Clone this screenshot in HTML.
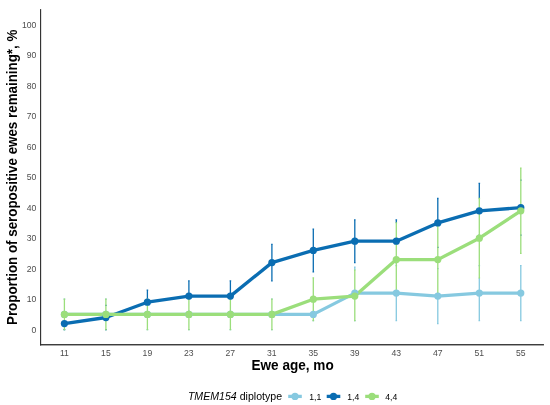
<!DOCTYPE html>
<html lang="en"><head><meta charset="utf-8"><title>Proportion of seropositive ewes remaining</title>
<style>html,body{margin:0;padding:0;background:#fff}body{width:550px;height:405px;overflow:hidden}</style></head>
<body>
<svg width="550" height="405" viewBox="0 0 550 405" style="display:block">
<rect width="550" height="405" fill="#fff"/>
<path d="M63.6 329.7h1.6M63.6 299.2h1.6" stroke="#86c9e0" stroke-width="1.3" fill="none"/>
<path d="M105.1 329.7h1.6M105.1 299.2h1.6" stroke="#86c9e0" stroke-width="1.3" fill="none"/>
<path d="M146.6 329.7h1.6M146.6 299.2h1.6" stroke="#86c9e0" stroke-width="1.3" fill="none"/>
<path d="M188.1 329.7h1.6M188.1 299.2h1.6" stroke="#86c9e0" stroke-width="1.3" fill="none"/>
<path d="M229.6 329.7h1.6M229.6 299.2h1.6" stroke="#86c9e0" stroke-width="1.3" fill="none"/>
<path d="M271.1 329.7h1.6M271.1 299.2h1.6" stroke="#86c9e0" stroke-width="1.3" fill="none"/>
<path d="M312.5 320.6h1.6M312.5 299.2h1.6" stroke="#86c9e0" stroke-width="1.3" fill="none"/>
<path d="M354.8 270.2V267.2M354.0 320.6h1.6M354.0 267.2h1.6" stroke="#86c9e0" stroke-width="1.3" fill="none"/>
<path d="M396.3 320.6V293.1M395.5 320.6h1.6M395.5 265.6h1.6" stroke="#86c9e0" stroke-width="1.3" fill="none"/>
<path d="M437.8 323.6V293.1M437.0 323.6h1.6M437.0 268.7h1.6" stroke="#86c9e0" stroke-width="1.3" fill="none"/>
<path d="M479.3 320.6V277.9M478.5 320.6h1.6M478.5 265.6h1.6" stroke="#86c9e0" stroke-width="1.3" fill="none"/>
<path d="M520.8 320.6V265.6M520.0 320.6h1.6M520.0 265.6h1.6" stroke="#86c9e0" stroke-width="1.3" fill="none"/>
<path d="M63.6 329.7h1.6M63.6 314.4h1.6" stroke="#0a6db2" stroke-width="1.3" fill="none"/>
<path d="M105.1 329.7h1.6M105.1 305.3h1.6" stroke="#0a6db2" stroke-width="1.3" fill="none"/>
<path d="M147.4 299.2V290.1M146.6 314.4h1.6M146.6 290.1h1.6" stroke="#0a6db2" stroke-width="1.3" fill="none"/>
<path d="M188.9 299.2V280.9M188.1 311.4h1.6M188.1 280.9h1.6" stroke="#0a6db2" stroke-width="1.3" fill="none"/>
<path d="M230.4 299.2V280.9M229.6 311.4h1.6M229.6 280.9h1.6" stroke="#0a6db2" stroke-width="1.3" fill="none"/>
<path d="M271.9 280.9V244.3M271.1 280.9h1.6M271.1 244.3h1.6" stroke="#0a6db2" stroke-width="1.3" fill="none"/>
<path d="M313.3 271.8V229.1M312.5 271.8h1.6M312.5 229.1h1.6" stroke="#0a6db2" stroke-width="1.3" fill="none"/>
<path d="M354.8 262.6V219.9M354.0 262.6h1.6M354.0 219.9h1.6" stroke="#0a6db2" stroke-width="1.3" fill="none"/>
<path d="M396.3 222.9V219.9M395.5 262.6h1.6M395.5 219.9h1.6" stroke="#0a6db2" stroke-width="1.3" fill="none"/>
<path d="M437.8 222.9V198.5M437.0 247.3h1.6M437.0 198.5h1.6" stroke="#0a6db2" stroke-width="1.3" fill="none"/>
<path d="M479.3 198.5V183.3M478.5 235.1h1.6M478.5 183.3h1.6" stroke="#0a6db2" stroke-width="1.3" fill="none"/>
<path d="M520.0 235.1h1.6M520.0 180.2h1.6" stroke="#0a6db2" stroke-width="1.3" fill="none"/>
<path d="M64.4 329.7V299.2M63.6 329.7h1.6M63.6 299.2h1.6" stroke="#9bde7b" stroke-width="1.3" fill="none"/>
<path d="M105.9 329.7V299.2M105.1 329.7h1.6M105.1 299.2h1.6" stroke="#9bde7b" stroke-width="1.3" fill="none"/>
<path d="M147.4 329.7V299.2M146.6 329.7h1.6M146.6 299.2h1.6" stroke="#9bde7b" stroke-width="1.3" fill="none"/>
<path d="M188.9 329.7V299.2M188.1 329.7h1.6M188.1 299.2h1.6" stroke="#9bde7b" stroke-width="1.3" fill="none"/>
<path d="M230.4 329.7V299.2M229.6 329.7h1.6M229.6 299.2h1.6" stroke="#9bde7b" stroke-width="1.3" fill="none"/>
<path d="M271.9 329.7V299.2M271.1 329.7h1.6M271.1 299.2h1.6" stroke="#9bde7b" stroke-width="1.3" fill="none"/>
<path d="M313.3 320.6V277.9M312.5 320.6h1.6M312.5 277.9h1.6" stroke="#9bde7b" stroke-width="1.3" fill="none"/>
<path d="M354.8 320.6V270.2M354.0 320.6h1.6M354.0 270.2h1.6" stroke="#9bde7b" stroke-width="1.3" fill="none"/>
<path d="M396.3 293.1V222.9M395.5 293.1h1.6M395.5 222.9h1.6" stroke="#9bde7b" stroke-width="1.3" fill="none"/>
<path d="M437.8 293.1V222.9M437.0 293.1h1.6M437.0 222.9h1.6" stroke="#9bde7b" stroke-width="1.3" fill="none"/>
<path d="M479.3 277.9V198.5M478.5 277.9h1.6M478.5 198.5h1.6" stroke="#9bde7b" stroke-width="1.3" fill="none"/>
<path d="M520.8 253.4V168.1M520.0 253.4h1.6M520.0 168.1h1.6" stroke="#9bde7b" stroke-width="1.3" fill="none"/>
<polyline points="64.4,314.4 105.9,314.4 147.4,314.4 188.9,314.4 230.4,314.4 271.9,314.4 313.3,314.4 354.8,293.1 396.3,293.1 437.8,296.1 479.3,293.1 520.8,293.1" fill="none" stroke="#86c9e0" stroke-width="3.3" stroke-linejoin="round" stroke-linecap="butt"/>
<polyline points="64.4,323.6 105.9,317.5 147.4,302.2 188.9,296.1 230.4,296.1 271.9,262.6 313.3,250.4 354.8,241.2 396.3,241.2 437.8,222.9 479.3,210.8 520.8,207.7" fill="none" stroke="#0a6db2" stroke-width="3.3" stroke-linejoin="round" stroke-linecap="butt"/>
<polyline points="64.4,314.4 105.9,314.4 147.4,314.4 188.9,314.4 230.4,314.4 271.9,314.4 313.3,299.2 354.8,296.1 396.3,259.6 437.8,259.6 479.3,238.2 520.8,210.8" fill="none" stroke="#9bde7b" stroke-width="3.3" stroke-linejoin="round" stroke-linecap="butt"/>
<ellipse cx="64.4" cy="314.4" rx="3.6" ry="3.65" fill="#86c9e0"/>
<ellipse cx="105.9" cy="314.4" rx="3.6" ry="3.65" fill="#86c9e0"/>
<ellipse cx="147.4" cy="314.4" rx="3.6" ry="3.65" fill="#86c9e0"/>
<ellipse cx="188.9" cy="314.4" rx="3.6" ry="3.65" fill="#86c9e0"/>
<ellipse cx="230.4" cy="314.4" rx="3.6" ry="3.65" fill="#86c9e0"/>
<ellipse cx="271.9" cy="314.4" rx="3.6" ry="3.65" fill="#86c9e0"/>
<ellipse cx="313.3" cy="314.4" rx="3.6" ry="3.65" fill="#86c9e0"/>
<ellipse cx="354.8" cy="293.1" rx="3.6" ry="3.65" fill="#86c9e0"/>
<ellipse cx="396.3" cy="293.1" rx="3.6" ry="3.65" fill="#86c9e0"/>
<ellipse cx="437.8" cy="296.1" rx="3.6" ry="3.65" fill="#86c9e0"/>
<ellipse cx="479.3" cy="293.1" rx="3.6" ry="3.65" fill="#86c9e0"/>
<ellipse cx="520.8" cy="293.1" rx="3.6" ry="3.65" fill="#86c9e0"/>
<ellipse cx="64.4" cy="323.6" rx="3.6" ry="3.65" fill="#0a6db2"/>
<ellipse cx="105.9" cy="317.5" rx="3.6" ry="3.65" fill="#0a6db2"/>
<ellipse cx="147.4" cy="302.2" rx="3.6" ry="3.65" fill="#0a6db2"/>
<ellipse cx="188.9" cy="296.1" rx="3.6" ry="3.65" fill="#0a6db2"/>
<ellipse cx="230.4" cy="296.1" rx="3.6" ry="3.65" fill="#0a6db2"/>
<ellipse cx="271.9" cy="262.6" rx="3.6" ry="3.65" fill="#0a6db2"/>
<ellipse cx="313.3" cy="250.4" rx="3.6" ry="3.65" fill="#0a6db2"/>
<ellipse cx="354.8" cy="241.2" rx="3.6" ry="3.65" fill="#0a6db2"/>
<ellipse cx="396.3" cy="241.2" rx="3.6" ry="3.65" fill="#0a6db2"/>
<ellipse cx="437.8" cy="222.9" rx="3.6" ry="3.65" fill="#0a6db2"/>
<ellipse cx="479.3" cy="210.8" rx="3.6" ry="3.65" fill="#0a6db2"/>
<ellipse cx="520.8" cy="207.7" rx="3.6" ry="3.65" fill="#0a6db2"/>
<ellipse cx="64.4" cy="314.4" rx="3.6" ry="3.65" fill="#9bde7b"/>
<ellipse cx="105.9" cy="314.4" rx="3.6" ry="3.65" fill="#9bde7b"/>
<ellipse cx="147.4" cy="314.4" rx="3.6" ry="3.65" fill="#9bde7b"/>
<ellipse cx="188.9" cy="314.4" rx="3.6" ry="3.65" fill="#9bde7b"/>
<ellipse cx="230.4" cy="314.4" rx="3.6" ry="3.65" fill="#9bde7b"/>
<ellipse cx="271.9" cy="314.4" rx="3.6" ry="3.65" fill="#9bde7b"/>
<ellipse cx="313.3" cy="299.2" rx="3.6" ry="3.65" fill="#9bde7b"/>
<ellipse cx="354.8" cy="296.1" rx="3.6" ry="3.65" fill="#9bde7b"/>
<ellipse cx="396.3" cy="259.6" rx="3.6" ry="3.65" fill="#9bde7b"/>
<ellipse cx="437.8" cy="259.6" rx="3.6" ry="3.65" fill="#9bde7b"/>
<ellipse cx="479.3" cy="238.2" rx="3.6" ry="3.65" fill="#9bde7b"/>
<ellipse cx="520.8" cy="210.8" rx="3.6" ry="3.65" fill="#9bde7b"/>
<rect x="40.05" y="9.1" width="1.1" height="336.4" fill="#2a2a2a"/>
<rect x="40.05" y="344.1" width="503.9" height="1.3" fill="#2a2a2a"/>
<text transform="translate(36.40,332.90) scale(0.93,1)" text-anchor="end" font-family="Liberation Sans, Arial, sans-serif" font-size="9.3" font-weight="normal" fill="#4d4d4d">0</text>
<text transform="translate(36.40,302.40) scale(0.93,1)" text-anchor="end" font-family="Liberation Sans, Arial, sans-serif" font-size="9.3" font-weight="normal" fill="#4d4d4d">10</text>
<text transform="translate(36.40,271.90) scale(0.93,1)" text-anchor="end" font-family="Liberation Sans, Arial, sans-serif" font-size="9.3" font-weight="normal" fill="#4d4d4d">20</text>
<text transform="translate(36.40,241.40) scale(0.93,1)" text-anchor="end" font-family="Liberation Sans, Arial, sans-serif" font-size="9.3" font-weight="normal" fill="#4d4d4d">30</text>
<text transform="translate(36.40,210.90) scale(0.93,1)" text-anchor="end" font-family="Liberation Sans, Arial, sans-serif" font-size="9.3" font-weight="normal" fill="#4d4d4d">40</text>
<text transform="translate(36.40,180.40) scale(0.93,1)" text-anchor="end" font-family="Liberation Sans, Arial, sans-serif" font-size="9.3" font-weight="normal" fill="#4d4d4d">50</text>
<text transform="translate(36.40,149.90) scale(0.93,1)" text-anchor="end" font-family="Liberation Sans, Arial, sans-serif" font-size="9.3" font-weight="normal" fill="#4d4d4d">60</text>
<text transform="translate(36.40,119.40) scale(0.93,1)" text-anchor="end" font-family="Liberation Sans, Arial, sans-serif" font-size="9.3" font-weight="normal" fill="#4d4d4d">70</text>
<text transform="translate(36.40,88.90) scale(0.93,1)" text-anchor="end" font-family="Liberation Sans, Arial, sans-serif" font-size="9.3" font-weight="normal" fill="#4d4d4d">80</text>
<text transform="translate(36.40,58.40) scale(0.93,1)" text-anchor="end" font-family="Liberation Sans, Arial, sans-serif" font-size="9.3" font-weight="normal" fill="#4d4d4d">90</text>
<text transform="translate(36.40,27.90) scale(0.93,1)" text-anchor="end" font-family="Liberation Sans, Arial, sans-serif" font-size="9.3" font-weight="normal" fill="#4d4d4d">100</text>
<text transform="translate(64.40,356.00) scale(0.93,1)" text-anchor="middle" font-family="Liberation Sans, Arial, sans-serif" font-size="9.3" font-weight="normal" fill="#4d4d4d">11</text>
<text transform="translate(105.89,356.00) scale(0.93,1)" text-anchor="middle" font-family="Liberation Sans, Arial, sans-serif" font-size="9.3" font-weight="normal" fill="#4d4d4d">15</text>
<text transform="translate(147.38,356.00) scale(0.93,1)" text-anchor="middle" font-family="Liberation Sans, Arial, sans-serif" font-size="9.3" font-weight="normal" fill="#4d4d4d">19</text>
<text transform="translate(188.87,356.00) scale(0.93,1)" text-anchor="middle" font-family="Liberation Sans, Arial, sans-serif" font-size="9.3" font-weight="normal" fill="#4d4d4d">23</text>
<text transform="translate(230.36,356.00) scale(0.93,1)" text-anchor="middle" font-family="Liberation Sans, Arial, sans-serif" font-size="9.3" font-weight="normal" fill="#4d4d4d">27</text>
<text transform="translate(271.85,356.00) scale(0.93,1)" text-anchor="middle" font-family="Liberation Sans, Arial, sans-serif" font-size="9.3" font-weight="normal" fill="#4d4d4d">31</text>
<text transform="translate(313.34,356.00) scale(0.93,1)" text-anchor="middle" font-family="Liberation Sans, Arial, sans-serif" font-size="9.3" font-weight="normal" fill="#4d4d4d">35</text>
<text transform="translate(354.83,356.00) scale(0.93,1)" text-anchor="middle" font-family="Liberation Sans, Arial, sans-serif" font-size="9.3" font-weight="normal" fill="#4d4d4d">39</text>
<text transform="translate(396.32,356.00) scale(0.93,1)" text-anchor="middle" font-family="Liberation Sans, Arial, sans-serif" font-size="9.3" font-weight="normal" fill="#4d4d4d">43</text>
<text transform="translate(437.81,356.00) scale(0.93,1)" text-anchor="middle" font-family="Liberation Sans, Arial, sans-serif" font-size="9.3" font-weight="normal" fill="#4d4d4d">47</text>
<text transform="translate(479.30,356.00) scale(0.93,1)" text-anchor="middle" font-family="Liberation Sans, Arial, sans-serif" font-size="9.3" font-weight="normal" fill="#4d4d4d">51</text>
<text transform="translate(520.79,356.00) scale(0.93,1)" text-anchor="middle" font-family="Liberation Sans, Arial, sans-serif" font-size="9.3" font-weight="normal" fill="#4d4d4d">55</text>
<text transform="translate(292.60,369.80) scale(0.93,1)" text-anchor="middle" font-family="Liberation Sans, Arial, sans-serif" font-size="14.6" font-weight="bold" fill="#000">Ewe age, mo</text>
<text transform="translate(17.20,177.35) rotate(-90) scale(0.9155,1)" text-anchor="middle" font-family="Liberation Sans, Arial, sans-serif" font-size="14.6" font-weight="bold" fill="#000">Proportion of seropositive ewes remaining*, %</text>
<text transform="translate(187.90,399.60) scale(0.946,1)" text-anchor="start" font-family="Liberation Sans, Arial, sans-serif" font-size="11.2" font-weight="normal" fill="#000"><tspan font-style="italic">TMEM154</tspan> diplotype</text>
<path d="M288.2 396.4h13.6" stroke="#86c9e0" stroke-width="3.3"/>
<ellipse cx="295" cy="396.4" rx="3.6" ry="3.65" fill="#86c9e0"/>
<text transform="translate(309.20,399.60) scale(0.93,1)" text-anchor="start" font-family="Liberation Sans, Arial, sans-serif" font-size="9.3" font-weight="normal" fill="#000">1,1</text>
<path d="M326.7 396.4h13.6" stroke="#0a6db2" stroke-width="3.3"/>
<ellipse cx="333.5" cy="396.4" rx="3.6" ry="3.65" fill="#0a6db2"/>
<text transform="translate(347.30,399.60) scale(0.93,1)" text-anchor="start" font-family="Liberation Sans, Arial, sans-serif" font-size="9.3" font-weight="normal" fill="#000">1,4</text>
<path d="M365.2 396.4h13.6" stroke="#9bde7b" stroke-width="3.3"/>
<ellipse cx="372" cy="396.4" rx="3.6" ry="3.65" fill="#9bde7b"/>
<text transform="translate(385.20,399.60) scale(0.93,1)" text-anchor="start" font-family="Liberation Sans, Arial, sans-serif" font-size="9.3" font-weight="normal" fill="#000">4,4</text>
</svg>
</body></html>
